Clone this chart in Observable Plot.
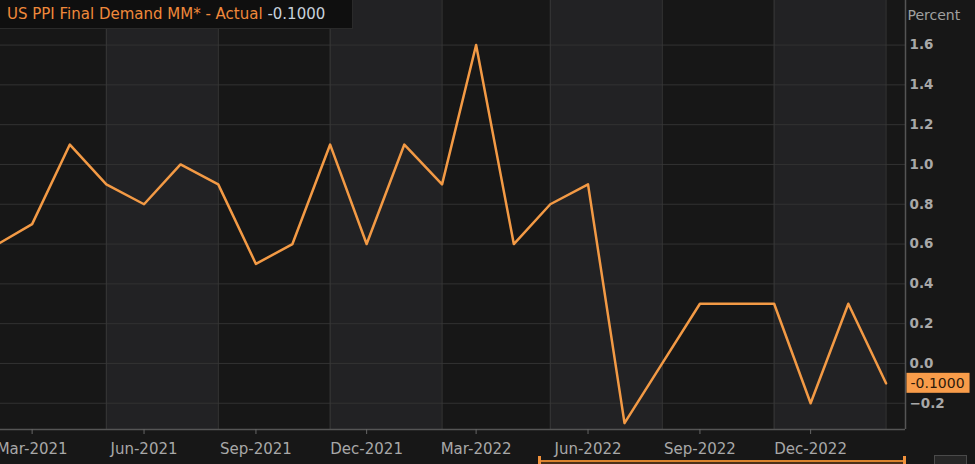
<!DOCTYPE html>
<html>
<head>
<meta charset="utf-8">
<script src="https://cdn.jsdelivr.net/npm/d3@7"></script>
<script src="https://cdn.jsdelivr.net/npm/@observablehq/plot@0.6"></script>
<style>
  html, body { margin: 0; padding: 0; background: #171717; }
  #wrap { position: relative; width: 975px; height: 464px; overflow: hidden; font-family: "DejaVu Sans", sans-serif; }
  #title { position: absolute; left: 0; top: 0; width: 345px; height: 28px; padding-left: 7px; line-height: 28px;
           background: #0f0f0f; border-right: 1px solid #2a2a2a; border-bottom: 1px solid #2a2a2a;
           font-size: 15px; color: #f0893b; white-space: nowrap; }
  #title .val { color: #c7d1dc; }
  #nav { position: absolute; left: 540px; top: 460px; width: 365px; height: 4px; background: #4a3119; border-top: 2px solid #d9832f; }
  .handle { position: absolute; top: 456px; width: 3px; height: 8px; background: #f0913c; }
  #btn { position: absolute; left: 934px; top: 455px; width: 31px; height: 9px; background: #262626; border: 1px solid #4a4a4a; }
</style>
</head>
<body>
<div id="wrap">
  <div id="chart"></div>
  <div id="title">US PPI Final Demand MM* - Actual <span class="val">-0.1000</span></div>
  <div id="nav"></div>
  <div class="handle" style="left:538px"></div>
  <div class="handle" style="left:903px"></div>
  <div id="btn"></div>
</div>
<script>
// ---- data ----
const months = [
  "2021-02-01","2021-03-01","2021-04-01","2021-05-01","2021-06-01","2021-07-01","2021-08-01",
  "2021-09-01","2021-10-01","2021-11-01","2021-12-01","2022-01-01","2022-02-01","2022-03-01",
  "2022-04-01","2022-05-01","2022-06-01","2022-07-01","2022-08-01","2022-09-01","2022-10-01",
  "2022-11-01","2022-12-01","2023-01-01","2023-02-01"
];
const values = [0.6, 0.7, 1.1, 0.9, 0.8, 1.0, 0.9, 0.5, 0.6, 1.1, 0.6, 1.1, 0.9, 1.6,
                0.6, 0.8, 0.9, -0.3, 0.0, 0.3, 0.3, 0.3, -0.2, 0.3, -0.1];
const xTicks = ["2021-03-01","2021-06-01","2021-09-01","2021-12-01","2022-03-01","2022-06-01","2022-09-01","2022-12-01"];
const yTicks = [-0.2, 0.0, 0.2, 0.4, 0.6, 0.8, 1.0, 1.2, 1.4, 1.6];
const gridDates = ["2021-05-01","2021-08-01","2021-11-01","2022-02-01","2022-05-01","2022-08-01","2022-11-01","2023-02-01"];
const bandStarts = ["2021-05-01","2021-11-01","2022-05-01","2022-11-01"];
const bandEnds   = ["2021-08-01","2022-02-01","2022-08-01","2023-02-01"];
const xDomain = ["2021-02-03","2023-02-17"];
const yDomain = [-0.332, 1.824];
const lastLabel = "-0.1000";

// ---- build ----
const P = d => new Date(d + "T00:00:00Z");
const series = months.map((m, i) => ({date: P(m), value: values[i]}));
const bands = bandStarts.map((s, i) => ({x1: P(s), x2: P(bandEnds[i])}));
const last = series[series.length - 1];

const chart = Plot.plot({
  width: 975,
  height: 464,
  marginLeft: 0,
  marginRight: 70,
  marginTop: 0,
  marginBottom: 35,
  style: {background: "#171717", fontFamily: "DejaVu Sans, sans-serif", color: "#a6a6a6"},
  x: {type: "utc", domain: xDomain.map(P)},
  y: {domain: yDomain},
  marks: [
    Plot.rect(bands, {x1: "x1", x2: "x2", fill: "#222224"}),
    Plot.ruleY(yTicks, {stroke: "#323232", strokeWidth: 1}),
    Plot.ruleX(gridDates.map(P), {stroke: "#383838", strokeWidth: 1}),
    Plot.ruleY([yDomain[0]], {stroke: "#555", strokeWidth: 1.5}),
    Plot.ruleX([P(xDomain[1])], {stroke: "#555", strokeWidth: 1.5}),
    Plot.axisX({ticks: xTicks.map(P), tickFormat: d3.utcFormat("%b-%Y"), tickSize: 5, tickPadding: 9,
                stroke: "#666", fill: "#a8a8a8", fontSize: 15, label: null}),
    Plot.axisY({anchor: "right", ticks: yTicks, tickFormat: d3.format(".1f"), tickSize: 0, tickPadding: 4,
                fill: "#a8a8a8", fontSize: 13.5, fontWeight: "bold", label: null}),
    Plot.text(["Percent"], {frameAnchor: "top-right", dx: 2, dy: 10, textAnchor: "start",
                fill: "#a0a0a0", fontSize: 14}),
    Plot.line(series, {x: "date", y: "value", stroke: "#f39a45", strokeWidth: 2.5, clip: true}),
    Plot.text([last], {y: "value", frameAnchor: "right", dx: 5, textAnchor: "start", text: () => lastLabel,
                fill: "#2b1a0a", fontSize: 14, className: "lastval"})
  ]
});
document.getElementById("chart").appendChild(chart);

// background box behind last value label
d3.select(chart).selectAll(".lastval text").each(function() {
  const b = this.getBBox();
  const g = this.parentNode;
  const t = this.getAttribute("transform");
  d3.select(g).insert("rect", () => this)
    .attr("transform", t)
    .attr("x", b.x - 4).attr("y", b.y - 2)
    .attr("width", b.width + 9).attr("height", b.height + 4)
    .attr("fill", "#f89c4a");
});
</script>
</body>
</html>
